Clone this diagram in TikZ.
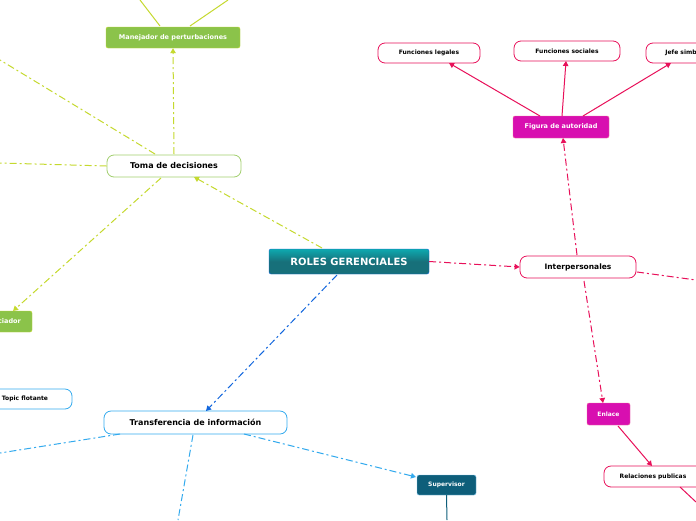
\documentclass[tikz,border=0pt]{standalone}
\usepackage{fontspec}
\setmainfont{DejaVu Sans}
\usetikzlibrary{arrows.meta}
\definecolor{gr}{HTML}{8BC34A}
\definecolor{lgr}{HTML}{C5D92E}
\definecolor{mg}{HTML}{D80FB0}
\definecolor{rd}{HTML}{E8105A}
\definecolor{tl}{HTML}{17707A}
\definecolor{bl}{HTML}{1166DD}
\definecolor{lb}{HTML}{33AAEE}
\definecolor{sv}{HTML}{0E5E7A}
\tikzset{
 every node/.style={font=\bfseries, inner sep=0pt},
 dd/.style={dash pattern=on 7pt off 3pt on 2pt off 3pt, line width=1pt},
 tip/.style={-{Triangle[length=5pt,width=5.5pt]}},
 wbox/.style={draw, fill=white, rounded corners=7pt, line width=0.8pt, text=black},
 fbox/.style={rounded corners=2pt, text=white, font=\bfseries\scriptsize}
}
\begin{document}
\begin{tikzpicture}[x=1pt,y=-1pt]
\clip (0,0) rectangle (696,520);
\fill[white] (0,0) rectangle (696,520);
% nodes
\node[fbox, fill=gr, draw=lgr, minimum width=134pt, minimum height=21pt, font=\bfseries\fontsize{6.5}{7}\selectfont] (man) at (173,37.5) {Manejador de perturbaciones};
\node[wbox, draw=gr!80, minimum width=134pt, minimum height=22pt, font=\bfseries\fontsize{8}{9}\selectfont] (toma) at (174,166) {Toma de decisiones};
\node[fbox, fill=gr, draw=lgr, minimum width=64pt, minimum height=21pt, font=\bfseries\fontsize{6.5}{7}\selectfont] (neg) at (0,321.5) {Negociador};
\node[draw=bl, top color=tl!60!cyan, bottom color=tl, middle color=tl, rounded corners=2pt, minimum width=160pt, minimum height=25pt, text=white, font=\bfseries\fontsize{10}{11}\selectfont] (roles) at (349,261.5) {ROLES GERENCIALES};
\node[wbox, draw=rd, minimum width=116pt, minimum height=22pt, font=\bfseries\fontsize{7.5}{9}\selectfont] (inter) at (578,267) {Interpersonales};
\node[fbox, fill=mg, draw=rd!60, minimum width=96pt, minimum height=22pt, font=\bfseries\fontsize{6.5}{7}\selectfont] (fig) at (561,127) {Figura de autoridad};
\node[wbox, draw=rd, minimum width=102pt, minimum height=20pt, font=\bfseries\fontsize{6}{7}\selectfont] (leg) at (429,53) {Funciones legales};
\node[wbox, draw=rd, minimum width=106pt, minimum height=20pt, font=\bfseries\fontsize{6}{7}\selectfont] (soc) at (567,51) {Funciones sociales};
\node[wbox, draw=rd, minimum width=100pt, minimum height=20pt, font=\bfseries\fontsize{6}{7}\selectfont] (jefe) at (696,53) {\hspace*{-14pt}Jefe simbólico};
\node[wbox, draw=lb, minimum width=120pt, minimum height=20pt, font=\bfseries\fontsize{6}{7}\selectfont] (topic) at (12,399) {\hspace*{26pt}Topic flotante};
\node[wbox, draw=lb, minimum width=183pt, minimum height=23pt, font=\bfseries\fontsize{8}{9}\selectfont] (trans) at (195.5,422.5) {Transferencia de información};
\node[fbox, fill=sv, draw=lb!60, minimum width=59pt, minimum height=20pt, font=\bfseries\fontsize{6}{7}\selectfont] (sup) at (446.5,485) {Supervisor};
\node[fbox, fill=mg, draw=rd!60, minimum width=43pt, minimum height=22pt, font=\bfseries\fontsize{6}{7}\selectfont] (enl) at (608.5,414) {Enlace};
\node[wbox, draw=rd, minimum width=130pt, minimum height=21pt, font=\bfseries\fontsize{6}{7}\selectfont] (rel) at (669,476.5) {\hspace*{-32pt}Relaciones publicas};
% free ends
\coordinate (m1) at (140,0); \coordinate (m2) at (228,0);
\coordinate (t1) at (0,60); \coordinate (t2) at (0,163);
\coordinate (i1) at (696,280); \coordinate (r1) at (696,502);
\coordinate (x1) at (0,453); \coordinate (x2) at (178,520);
\coordinate (s1) at (447,520);
% connectors
\draw[lgr, line width=1pt] (160,26) -- (m1);
\draw[lgr, line width=1pt] (190,26) -- (m2);
\draw[lgr, dd, tip] (174,154) -- (man.south);
\draw[lgr, dd] (155,154) -- (t1);
\draw[lgr, dd] (toma.west) -- (t2);
\draw[lgr, dd, tip] (161,178) -- (13,311);
\draw[lgr, dd, tip] (322,248) -- (194,177);
\draw[rd, dd, tip] (roles.east) -- (inter.west);
\draw[bl, dd, tip] (337,275) -- (206,411);
\draw[rd, dd, tip] (577,255) -- (563,138);
\draw[rd, dd, tip] (584,281) -- (603,403);
\draw[rd, dd] (637,272) -- (i1);
\draw[rd, line width=1pt, tip] (540,116) -- (449,63);
\draw[rd, line width=1pt, tip] (562,116) -- (566,61);
\draw[rd, line width=1pt, tip] (583,116) -- (671,63);
\draw[rd, line width=1pt, tip] (618,426) -- (652,466);
\draw[rd, line width=1pt] (680,487) -- (r1);
\draw[lb, dd, tip] (244,434) -- (416,477);
\draw[lb, dd] (120,434) -- (x1);
\draw[lb, dd] (193,435) -- (x2);
\draw[sv, line width=1pt] (sup.south) -- (s1);
\end{tikzpicture}
\end{document}
